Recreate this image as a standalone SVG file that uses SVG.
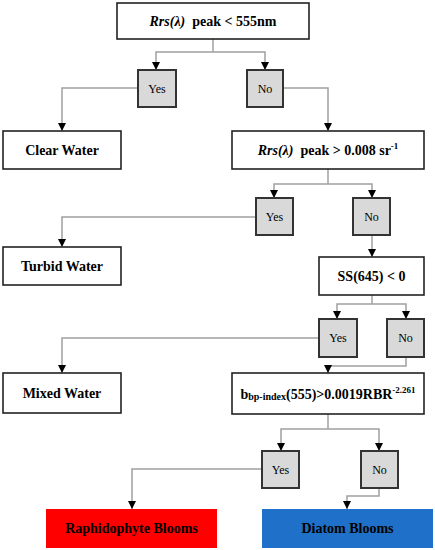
<svg xmlns="http://www.w3.org/2000/svg" width="435" height="550" viewBox="0 0 435 550">
<defs>
<marker id="ah" viewBox="0 0 8 8" refX="8" refY="4" markerWidth="8" markerHeight="8" markerUnits="userSpaceOnUse" orient="auto">
<path d="M0,0 L8,4 L0,8 Z" fill="#000"/>
</marker>
<style>
.box{fill:#fff;stroke:#222;stroke-width:1.6}
.dec{fill:#d9d9d9;stroke:#333;stroke-width:2}
.lbl{font-family:"Liberation Serif","Times New Roman",serif;font-weight:bold;font-size:14px;fill:#000;text-anchor:middle}
.yn{font-family:"Liberation Serif","Times New Roman",serif;font-size:12px;fill:#000;text-anchor:middle}
.ln{fill:none;stroke:#a0a0a0;stroke-width:1.5}
.ar{marker-end:url(#ah)}
</style>
</defs>
<rect width="435" height="550" fill="#fff"/>
<g id="connectors">
<path class="ln" d="M213,39 V52"/>
<path class="ln ar" d="M213,52 H156 V70"/>
<path class="ln ar" d="M213,52 H265 V70"/>
<path class="ln ar" d="M138,88 H62 V131"/>
<path class="ln ar" d="M283,88 H328 V131"/>
<path class="ln" d="M328,169 V184"/>
<path class="ln ar" d="M328,184 H274 V198"/>
<path class="ln ar" d="M328,184 H372 V198"/>
<path class="ln ar" d="M256,217 H62 V247"/>
<path class="ln ar" d="M372,235 V257"/>
<path class="ln" d="M372,295 V304"/>
<path class="ln ar" d="M372,304 H337 V319"/>
<path class="ln ar" d="M372,304 H406 V319"/>
<path class="ln ar" d="M319,338 H62 V373"/>
<path class="ln ar" d="M406,357 V366 H328 V373"/>
<path class="ln" d="M328,414 V429"/>
<path class="ln ar" d="M328,429 H281 V451"/>
<path class="ln ar" d="M328,429 H379 V451"/>
<path class="ln ar" d="M262,469 H132 V509"/>
<path class="ln ar" d="M379,488 V496 H347 V509"/>
</g>
<g id="n-rrs555">
<rect class="box" x="117" y="3" width="192" height="36"/>
<text class="lbl" x="213" y="26"><tspan font-style="italic">Rrs(λ)</tspan>&#160;&#160;peak &lt; 555nm</text>
</g>
<g id="d1-yes"><rect class="dec" x="138" y="70" width="38" height="37"/><text class="yn" x="157" y="93">Yes</text></g>
<g id="d1-no"><rect class="dec" x="247" y="70" width="36" height="37"/><text class="yn" x="265" y="93">No</text></g>
<g id="n-clear"><rect class="box" x="3" y="131" width="118" height="38"/><text class="lbl" x="62" y="155">Clear Water</text></g>
<g id="n-rrs008">
<rect class="box" x="232" y="131" width="192" height="38"/>
<text class="lbl" x="328" y="155"><tspan font-style="italic">Rrs(λ)</tspan>&#160;&#160;peak &gt; 0.008 sr<tspan font-size="9" dy="-6">-1</tspan></text>
</g>
<g id="d2-yes"><rect class="dec" x="256" y="198" width="37" height="37"/><text class="yn" x="274.500" y="221">Yes</text></g>
<g id="d2-no"><rect class="dec" x="353" y="198" width="37" height="37"/><text class="yn" x="371.500" y="221">No</text></g>
<g id="n-turbid"><rect class="box" x="3" y="247" width="118" height="38"/><text class="lbl" x="62" y="271">Turbid Water</text></g>
<g id="n-ss"><rect class="box" x="319" y="257" width="105" height="38"/><text class="lbl" x="371.500" y="281">SS(645) &lt; 0</text></g>
<g id="d3-yes"><rect class="dec" x="319" y="319" width="38" height="38"/><text class="yn" x="338" y="342">Yes</text></g>
<g id="d3-no"><rect class="dec" x="387" y="319" width="37" height="38"/><text class="yn" x="405.500" y="342">No</text></g>
<g id="n-mixed"><rect class="box" x="3" y="373" width="118" height="40"/><text class="lbl" x="62" y="398">Mixed Water</text></g>
<g id="n-bbp">
<rect class="box" x="232" y="373" width="192" height="41"/>
<text class="lbl" x="328" y="399">b<tspan font-size="10" dy="1">bp-index</tspan><tspan dy="-1">(555)&gt;0.0019RBR</tspan><tspan font-size="9" dy="-6">-2.261</tspan></text>
</g>
<g id="d4-yes"><rect class="dec" x="262" y="451" width="37" height="37"/><text class="yn" x="280.500" y="474">Yes</text></g>
<g id="d4-no"><rect class="dec" x="361" y="451" width="37" height="37"/><text class="yn" x="379.500" y="474">No</text></g>
<g id="n-raph"><rect x="46" y="509" width="171" height="39" fill="#ff0000"/><text class="lbl" x="131.500" y="533">Raphidophyte Blooms</text></g>
<g id="n-diatom"><rect x="262" y="509" width="171" height="39" fill="#1f70c8"/><text class="lbl" x="347.500" y="533">Diatom Blooms</text></g>
</svg>
